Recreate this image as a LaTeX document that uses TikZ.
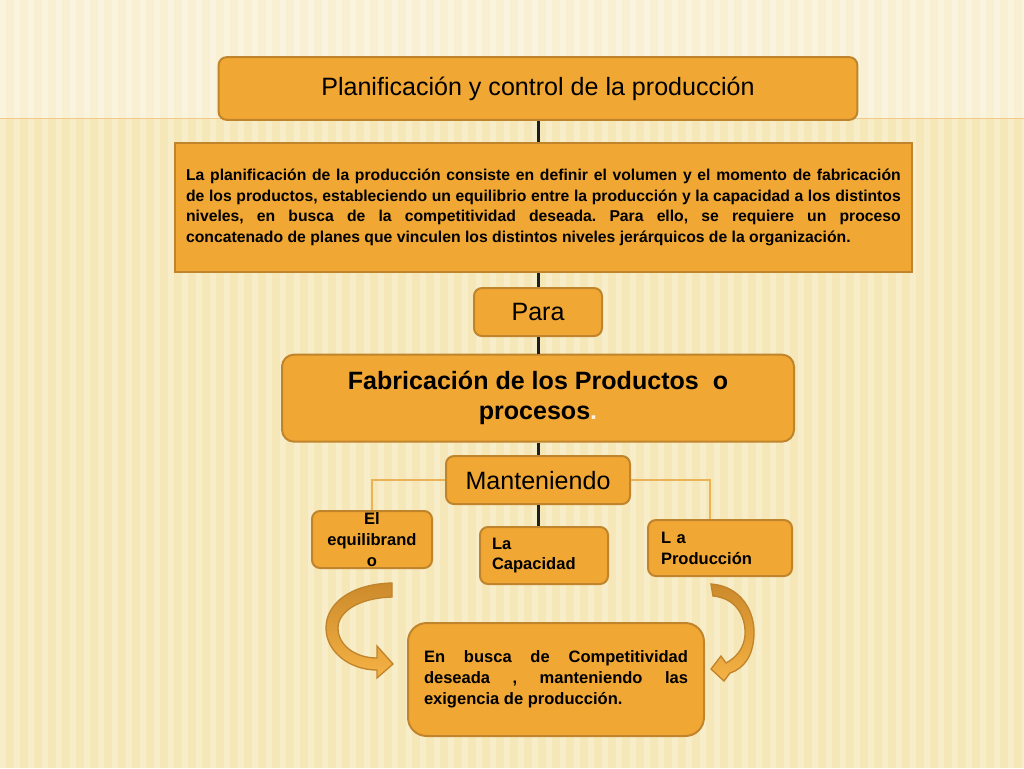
\documentclass[tikz,border=0pt]{standalone}
\usepackage{fontspec}
\setmainfont{Liberation Sans}
\usepackage{tikz}

\definecolor{boxorange}{RGB}{241,167,52}
\definecolor{boxedge}{RGB}{192,132,44}
\definecolor{paper}{RGB}{246,231,184}
\definecolor{thinline}{RGB}{236,178,86}
\definecolor{arrowdark}{RGB}{204,138,44}
\definecolor{arrowlight}{RGB}{245,178,68}
\definecolor{connector}{RGB}{30,30,30}

\hyphenpenalty=10000
\exhyphenpenalty=10000
\frenchspacing

\begin{document}
\begin{tikzpicture}[x=0.75pt,y=-0.75pt]
\tikzstyle{box}=[draw=boxedge,fill=boxorange,line width=1.5pt,rounded corners=6pt,inner sep=0pt]
\tikzstyle{bigtext}=[font=\fontsize{18.8pt}{22pt}\selectfont]
\tikzstyle{smalltext}=[font=\fontsize{12.4pt}{15.6pt}\selectfont\bfseries]
\tikzstyle{link}=[draw=connector,line width=2.25pt]
\tikzstyle{thinlink}=[draw=thinline,line width=0.9pt]
\tikzstyle{curvearrow}=[draw=boxedge,line width=1pt,top color=arrowdark,bottom color=arrowlight]

% background
\useasboundingbox (0,0) rectangle (1024,768);
\fill[paper] (0,0) rectangle (1024,768);
\foreach \x in {0,14,...,1022}
  \fill[white,opacity=0.25] (\x,0) rectangle ++(6,768);
\fill[white,opacity=0.4] (0,0) rectangle (1024,118);
\draw[thinline!70!white,line width=0.6pt] (0,118) -- (1024,118);

\node[box,bigtext,minimum width=479pt,minimum height=47pt] (title) at (538,88.5)
  {Planificación y control de la producción};
\node[box,rounded corners=0pt,minimum width=553pt,minimum height=97pt,text width=536pt,
  align=justify,font=\fontsize{11.8pt}{15.4pt}\selectfont\bfseries]
  (desc) [below of=title,node distance=89.25pt,xshift=4.1pt]
  {La planificación de la producción consiste en definir el volumen y el momento de fabricación\linebreak
   de los productos, estableciendo un equilibrio entre la producción y la capacidad a los distintos\linebreak
   niveles, en busca de la competitividad deseada. Para ello, se requiere un proceso\linebreak
   concatenado de planes que vinculen los distintos niveles jerárquicos de la organización.};
\node[box,bigtext,minimum width=96pt,minimum height=36pt] (para)
  [below of=desc,node distance=78.4pt,xshift=-4.1pt] {Para};
\node[box,rounded corners=9pt,minimum width=384pt,minimum height=65.25pt,align=center,
  font=\fontsize{18.8pt}{22.5pt}\selectfont\bfseries] (fab)
  [below of=para,node distance=62.6pt,yshift=-2pt]
  {Fabricación de los Productos\ \ o\\procesos{\color{white!85!boxorange}.}};
\node[box,bigtext,minimum width=138pt,minimum height=36pt] (mant)
  [below of=fab,node distance=61.4pt] {Manteniendo};
\node[box,smalltext,minimum width=96pt,minimum height=42.75pt,text width=78pt,align=left] (cap)
  [below of=mant,node distance=56.6pt,xshift=4.5pt] {La\\Capacidad};
\node[box,smalltext,minimum width=90pt,minimum height=42.75pt,text width=75pt,align=center] (eq)
  [left of=cap,node distance=129pt,yshift=12pt] {El\\equilibrand\\o};
\node[box,smalltext,minimum width=108pt,minimum height=42pt,text width=88.5pt,align=left] (prod)
  [right of=cap,node distance=132pt,yshift=5.6pt] {L a\\Producción};
\node[box,rounded corners=14pt,minimum width=222pt,minimum height=84.75pt,text width=198pt,
  align=justify,font=\fontsize{12.4pt}{15.75pt}\selectfont\bfseries] (final)
  [below of=cap,node distance=93pt,xshift=9pt]
  {En busca de Competitividad\linebreak deseada , manteniendo las\linebreak exigencia de producción.};

% connectors
\draw[link] (title.south) -- (title.south |- desc.north);
\draw[link] (para.north |- desc.south) -- (para.north);
\draw[link] (para.south) -- (fab.north);
\draw[link] (fab.south) -- (mant.north);
\draw[link] (mant.south) -- (mant.south |- cap.north);
\draw[thinlink] (mant.west) -| (eq.north);
\draw[thinlink] (mant.east) -| ([xshift=-7.5pt]prod.north);

% curved block arrows
\path[curvearrow] (392,583) .. controls (350,584) and (326,604) .. (326,628)
  .. controls (326,652) and (350,670) .. (377,670) -- (377,678) -- (393,664)
  -- (377,646) -- (377,658) .. controls (355,658) and (338,645) .. (338,628)
  .. controls (338,612) and (358,598) .. (392,597) -- cycle;
\path[curvearrow] (711,584) .. controls (740,586) and (755,610) .. (754,635)
  .. controls (753,655) and (745,668) .. (730,673) -- (724,681) -- (711,669)
  -- (721,656) -- (726,663) .. controls (737,657) and (744,648) .. (745,635)
  .. controls (746,615) and (735,598) .. (713,596) -- cycle;

\end{tikzpicture}
\end{document}
